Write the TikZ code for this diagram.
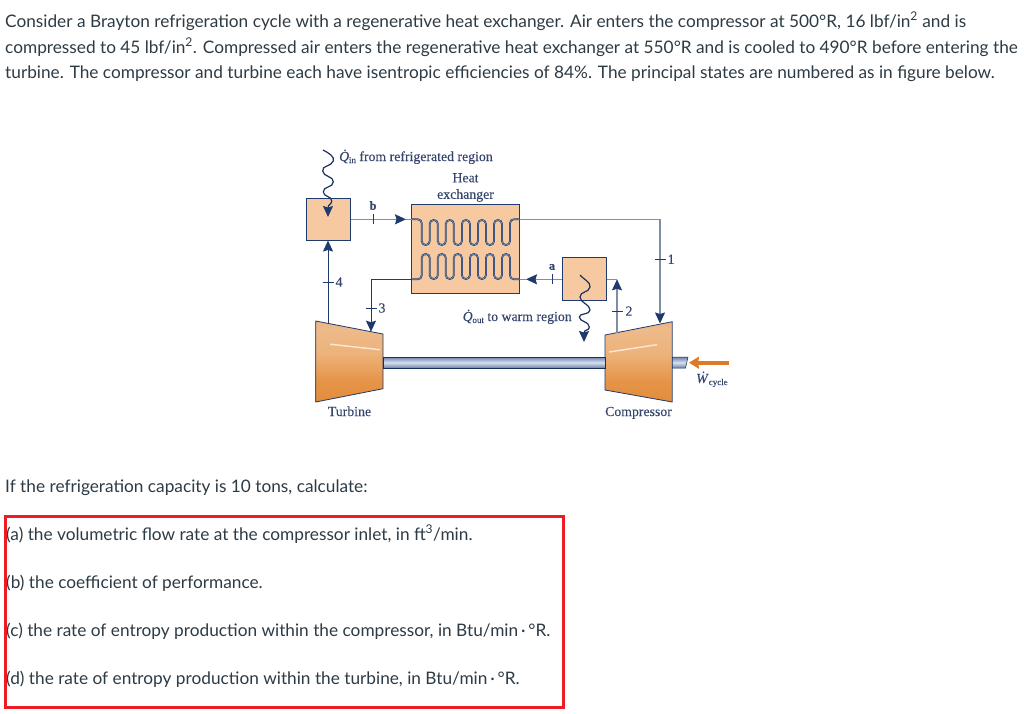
\documentclass[tikz,border=0pt]{standalone}
\usepackage{fontspec}
\setmainfont{Lato}
\newfontfamily\figfont[FakeBold=0.15]{Liberation Serif}
\usetikzlibrary{arrows.meta}
\definecolor{bodytext}{HTML}{2D3B45}
\definecolor{navy}{HTML}{1F3A6E}
\definecolor{pipe}{HTML}{7F8EA8}
\definecolor{boxfill}{HTML}{F6C9A0}
\definecolor{figtext}{HTML}{34466E}
\definecolor{redbox}{HTML}{ED1C24}
\definecolor{workarrow}{HTML}{DE7A26}
\pgfdeclareverticalshading{machineshade}{100bp}{
  rgb(0bp)=(0.92,0.66,0.42);
  rgb(25bp)=(0.89,0.55,0.24);
  rgb(38bp)=(0.90,0.58,0.28);
  rgb(55bp)=(0.93,0.70,0.48);
  rgb(70bp)=(0.93,0.73,0.54);
  rgb(100bp)=(0.90,0.62,0.36)}
\pgfdeclareverticalshading{shaftshade}{100bp}{
  rgb(0bp)=(0.16,0.26,0.46);
  rgb(25bp)=(0.42,0.51,0.68);
  rgb(50bp)=(0.85,0.88,0.93);
  rgb(75bp)=(0.42,0.51,0.68);
  rgb(100bp)=(0.16,0.26,0.46)}
\tikzset{
  bodyline/.style={anchor=base west,inner sep=0pt,text=bodytext,font=\fontsize{17.25}{20}\selectfont},
  figlabel/.style={inner sep=0pt,text=figtext,font=\figfont\fontsize{13.8}{16.5}\selectfont,align=center},
  unitbox/.style={draw=navy,line width=1pt,fill=boxfill,inner sep=0pt},
  flowdark/.style={draw=navy,line width=1pt},
  flowpale/.style={draw=pipe,line width=1.2pt},
  tipped/.style={-{Stealth[length=11pt,width=10pt,inset=1.5pt,fill=navy,color=navy]}},
  tickmark/.style={draw=navy,line width=.8pt},
  coil/.style={draw=navy,line width=.55pt,double=pipe,double distance=.7pt,rounded corners=3.9pt},
  wavy/.style={draw=navy!85!black,line width=1.2pt},
  casing/.style={draw=navy,line width=.8pt,shading=machineshade},
  shaftbar/.style={draw=navy!80!black,line width=.5pt,shading=shaftshade},
}
\newcommand{\dotted}[2]{\textit{\.#1}\kern#2}
\newcommand{\lowered}[1]{\raisebox{-2pt}{\fontsize{9}{9}\selectfont #1}}
\begin{document}
\begin{tikzpicture}[x=1pt,y=-1pt]
\useasboundingbox (0,0) rectangle (1024,713);
\fill[white] (0,0) rectangle (1024,713);

% question text
\node[bodyline] (l1) at (5,27) {Consider a Brayton refrigeration cycle with a regenerative heat exchanger. Air enters the compressor at 500°R, 16 lbf/in\textsuperscript{2} and is};
\node[bodyline] (l2) at (5,53) {compressed to 45 lbf/in\textsuperscript{2}. Compressed air enters the regenerative heat exchanger at 550°R and is cooled to 490°R before entering the};
\node[bodyline] (l3) at (5,78) {turbine. The compressor and turbine each have isentropic efficiencies of 84\%. The principal states are numbered as in figure below.};
\node[bodyline] (l4) at (5,492) {If the refrigeration capacity is 10 tons, calculate:};
\node[bodyline] (qa) at (6,540) {(a) the volumetric flow rate at the compressor inlet, in ft\textsuperscript{3}/min.};
\node[bodyline] (qb) at (6,588) {(b) the coefficient of performance.};
\node[bodyline] (qc) at (6,636) {(c) the rate of entropy production within the compressor, in Btu/min\,·\,°R.};
\node[bodyline] (qd) at (6,684) {(d) the rate of entropy production within the turbine, in Btu/min\,·\,°R.};
\node[draw=redbox,line width=2.6pt,minimum width=558pt,minimum height=191pt,inner sep=0pt] (answerbox) at (284.5,612) {};

% units
\node[unitbox,minimum width=44pt,minimum height=42pt] (cold) at (328.7,219) {};
\node[unitbox,minimum width=108pt,minimum height=89pt] (hx) at (465.7,248.5) {};
\node[unitbox,minimum width=44pt,minimum height=43.3pt] (warm) at (584,278.7) {};

% machines
\path[casing] (315.7,321) -- (383,334) -- (383,388.7) -- (315.7,402) -- cycle;
\path[casing] (605,335) -- (672.3,321.7) -- (672.3,402) -- (605,390) -- cycle;
\path[shaftbar] (383,357) rectangle (605,368);
\path[shaftbar] (672.3,357) -- (688,357) -- (685.5,368) -- (672.3,368) -- cycle;
\fill[white,opacity=.7] (330,343.5) -- (380,349) -- (380,350.4) -- (330,344.9) -- cycle;
\fill[white,opacity=.7] (609,351.3) -- (657,344) -- (657,345.4) -- (609,352.7) -- cycle;

\coordinate (hxtl) at (411.7,219.3);
\coordinate (hxtr) at (519.7,219.3);
\coordinate (hxbl) at (411.7,279.3);
\coordinate (hxbr) at (519.7,279.3);
\coordinate (turbA) at (328,323.5);
\coordinate (turbB) at (371,331.7);
\coordinate (compA) at (660,323.5);
\coordinate (compB) at (617,332.6);
\coordinate (btip) at (406,219.3);
\coordinate (atip) at (526,279.3);
\coordinate (corner1) at (660,219.3);
\coordinate (corner2) at (617,279.3);
\coordinate (corner3) at (371,279.3);

% coils
\draw[coil] (hxtl) -- (421.7,219.3) -- (421.7,245) -- (429.7,245) -- (429.7,220) -- (437.8,220) -- (437.8,245) -- (445.8,245) -- (445.8,220) -- (453.8,220) -- (453.8,245) -- (461.9,245) -- (461.9,220) -- (469.9,220) -- (469.9,245) -- (477.9,245) -- (477.9,220) -- (485.9,220) -- (485.9,245) -- (494,245) -- (494,220) -- (502,220) -- (502,245) -- (510,245) -- (510,219.3) -- (hxtr);
\draw[coil] (hxbl) -- (421.7,279.3) -- (421.7,254) -- (429.7,254) -- (429.7,279) -- (437.8,279) -- (437.8,254) -- (445.8,254) -- (445.8,279) -- (453.8,279) -- (453.8,254) -- (461.9,254) -- (461.9,279) -- (469.9,279) -- (469.9,254) -- (477.9,254) -- (477.9,279) -- (485.9,279) -- (485.9,254) -- (494,254) -- (494,279) -- (502,279) -- (502,254) -- (510,254) -- (510,279.3) -- (hxbr);

% connectors
\draw[flowpale,tipped] (cold.east |- hxtl) -- (btip);
\draw[flowpale] (btip) -- (hxtl);
\draw[flowdark,tipped] (turbA) -- (cold.south -| turbA);
\draw[flowdark,tipped] (hxbl) -- (corner3) -- (turbB);
\draw[flowpale,tipped] (hxtr) -- (corner1) -- (compA);
\draw[flowpale,tipped] (warm.west |- hxbr) -- (atip);
\draw[flowpale] (atip) -- (hxbr);
\draw[flowpale,tipped] (compB) -- (corner2);
\draw[flowpale] (corner2) -- (warm.east |- corner2);

% ticks and state labels
\coordinate (tb) at (373,219.3);
\coordinate (ta) at (552,279.3);
\coordinate (t4) at (328,282);
\coordinate (t3) at (371,308);
\coordinate (t1) at (660,259.3);
\coordinate (t2) at (617,311);
\draw[tickmark] ([yshift=5pt]tb) -- ([yshift=-5pt]tb);
\draw[tickmark] ([yshift=5pt]ta) -- ([yshift=-5pt]ta);
\draw[tickmark] ([xshift=-5.5pt]t4) -- ([xshift=5.5pt]t4);
\draw[tickmark] ([xshift=-5.5pt]t3) -- ([xshift=5.5pt]t3);
\draw[tickmark] ([xshift=-5.5pt]t1) -- ([xshift=5.5pt]t1);
\draw[tickmark] ([xshift=-5.5pt]t2) -- ([xshift=5.5pt]t2);
\node[figlabel] (lb) at (373,205.5) {\textbf{\fontsize{12.5}{13}\selectfont b}};
\node[figlabel] (la) at (552,267) {\textbf{\fontsize{12.5}{13}\selectfont a}};
\node[figlabel] (l4n) at (339,282) {4};
\node[figlabel] (l3n) at (382,308) {3};
\node[figlabel] (l1n) at (671,259.3) {1};
\node[figlabel] (l2n) at (629,311) {2};

% heat paths
\coordinate (qintop) at (323,150);
\coordinate (qinend) at (328,208);
\coordinate (qintip) at (328,217);
\coordinate (qouttop) at (580,275);
\coordinate (qoutend) at (584,333);
\coordinate (qouttip) at (584,342);
\draw[wavy] (qintop) .. controls (329,153) and (335,157) .. (333.3,161) .. controls (331,167) and (322,165) .. (322.7,171) .. controls (323,177) and (334,176) .. (333.3,182) .. controls (333,188) and (323,186) .. (323.3,192) .. controls (323.5,197) and (332,196) .. (331.7,201) .. controls (331.5,205) and (328,204) .. (qinend);
\draw[wavy,tipped] (qinend) -- (qintip);
\draw[wavy] (qouttop) .. controls (583,279) and (591,282) .. (590,287) .. controls (589,293) and (580,291) .. (580,297) .. controls (580,303) and (590,304) .. (590,310) .. controls (590,315) and (579,313) .. (579.3,317) .. controls (579.5,322) and (589,321) .. (589.3,327) .. controls (589.5,331) and (584,329) .. (qoutend);
\draw[wavy,tipped] (qoutend) -- (qouttip);

% work input
\coordinate (wtail) at (729,362.7);
\coordinate (wtip) at (689,362.7);
\draw[draw=workarrow,line width=3.6pt,-{Stealth[length=10pt,width=12pt,inset=1pt,fill=workarrow,color=workarrow]}] (wtail) -- (wtip);

% figure labels
\node[figlabel,anchor=base west] (qinl) at (339,161) {\dotted{Q}{-.3em}\lowered{in} from refrigerated region};
\node[figlabel,anchor=center] (hxl) at (465.5,187.5) {Heat\\exchanger};
\node[figlabel,anchor=base west] (qoutl) at (462.5,321) {\dotted{Q}{-.3em}\lowered{out} to warm region};
\node[figlabel,anchor=base] (turbl) at (349.5,416) {Turbine};
\node[figlabel,anchor=base] (compl) at (638.5,416) {Compressor};
\node[figlabel,anchor=base west] (wl) at (696,383) {\dotted{W}{0pt}\lowered{cycle}};
\end{tikzpicture}
\end{document}
